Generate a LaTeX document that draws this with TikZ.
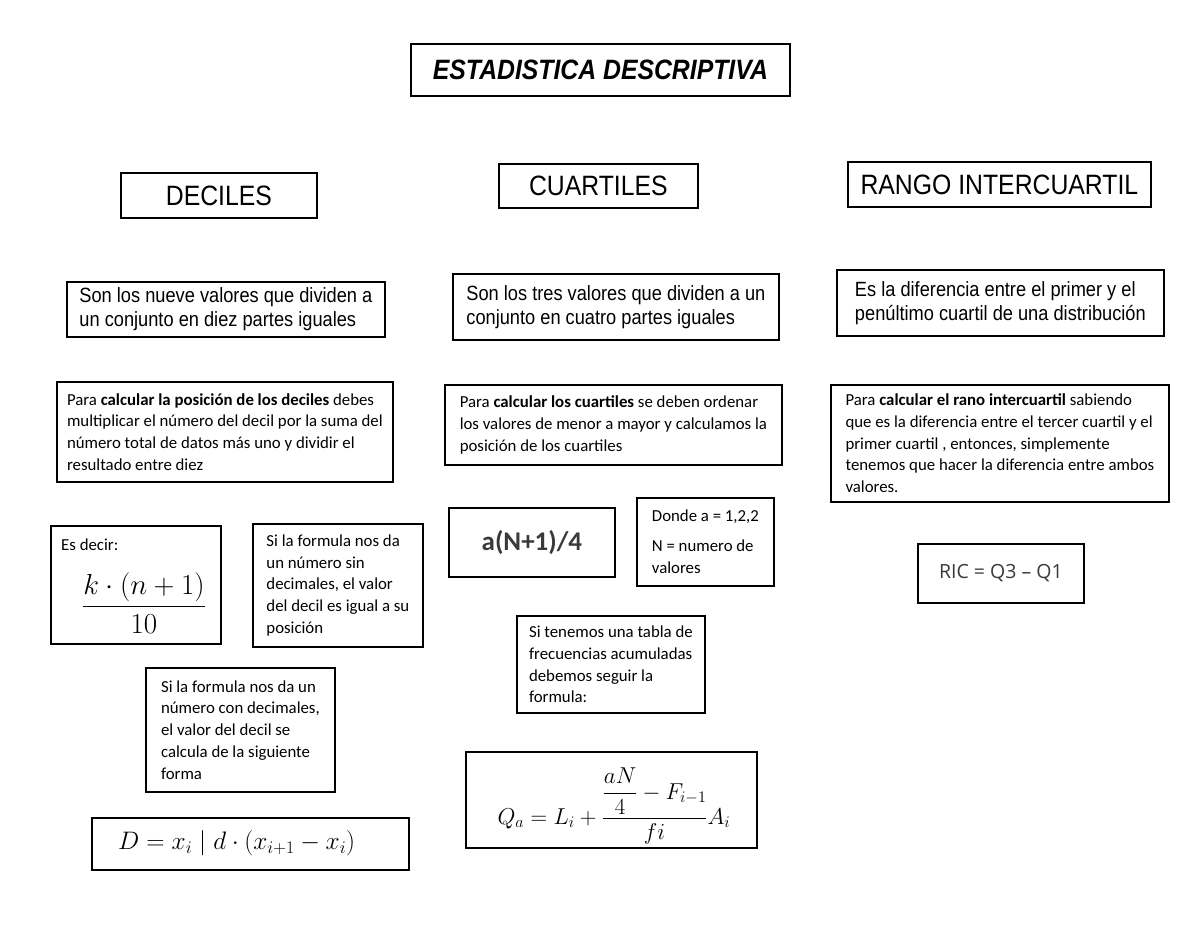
\RequirePackage{fix-cm}
\documentclass[tikz,border=0pt]{standalone}
\usepackage{amsmath}
\usepackage{fontspec}
\setmainfont{Liberation Sans}[FakeStretch=0.885]
\newfontfamily\calfont{Carlito}
\newfontfamily\osfont{Open Sans}
\definecolor{formgray}{HTML}{3A3A3A}
\begin{document}
\begin{tikzpicture}[x=1pt,y=-1pt,
  frame/.style={draw, line width=1.8pt, anchor=north west, inner sep=0pt},
  hdr/.style={frame, font=\fontsize{28}{32}\selectfont, align=center},
  ar/.style={frame, font=\fontsize{20.6}{24}\selectfont, align=left},
  cb/.style={frame, font=\calfont\fontsize{16.8}{21.7}\selectfont, align=left},
  cbtext/.style={inner sep=0pt, font=\calfont\fontsize{16.8}{21.7}\selectfont},
  mth/.style={inner sep=0pt}
]
\useasboundingbox[fill=white] (0,0) rectangle (1200,927);

% title and headers
\node[hdr, minimum width=379pt, minimum height=52pt,
      font=\fontsize{28}{32}\selectfont\bfseries\itshape] (title) at (410,43) {ESTADISTICA DESCRIPTIVA};
\node[hdr, minimum width=196pt, minimum height=45pt] (deciles) at (120,172) {DECILES};
\node[hdr, minimum width=199pt, minimum height=44pt] (cuartiles) at (498,163) {CUARTILES};
\node[hdr, minimum width=303pt, minimum height=45pt] (rango) at (847,161) {RANGO INTERCUARTIL};

% definitions
\node[ar, minimum width=318pt, minimum height=55pt] (defdec) at (66,281)
  {Son los nueve valores que dividen a\\un conjunto en diez partes iguales};
\node[ar, minimum width=326pt, minimum height=66pt] (defcuar) at (452,273)
  {Son los tres valores que dividen a un\\conjunto en cuatro partes iguales};
\node[ar, minimum width=327pt, minimum height=66pt] (defrango) at (836,269)
  {Es la diferencia entre el primer y el\\penúltimo cuartil de una distribución};

% calculation texts
\node[cb, minimum width=336pt, minimum height=100pt] (caldec) at (56,381)
  {Para \textbf{calcular la posición de los deciles} debes\\multiplicar el número del decil por la suma del\\número total de datos más uno y dividir el\\resultado entre diez};
\node[cb, minimum width=337pt, minimum height=80pt] (calcuar) at (444,384)
  {Para \textbf{calcular los cuartiles} se deben ordenar\\los valores de menor a mayor y calculamos la\\posición de los cuartiles};
\node[cb, minimum width=338pt, minimum height=117pt] (calrango) at (830,384)
  {Para \textbf{calcular el rano intercuartil} sabiendo\\que es la diferencia entre el tercer cuartil y el\\primer cuartil , entonces, simplemente\\tenemos que hacer la diferencia entre ambos\\valores.};

% deciles column
\node[frame, minimum width=170pt, minimum height=118pt] (decir) at (50,525) {};
\node[cbtext, anchor=west] (decirlbl) at (61,545) {Es decir:};
\node[mth] (decirf) at (144,603) {\fontsize{29}{34}\selectfont$\displaystyle\frac{k\cdot(n+1)}{10}$};

\node[cb, minimum width=170pt, minimum height=123pt] (sindec) at (252,523)
  {Si la formula nos da\\un número sin\\decimales, el valor\\del decil es igual a su\\posición};

\node[cb, minimum width=189pt, minimum height=124pt] (condec) at (145,667)
  {Si la formula nos da un\\número con decimales,\\el valor del decil se\\calcula de la siguiente\\forma};

\node[frame, minimum width=317pt, minimum height=52pt] (dbox) at (91,817) {};
\node[mth, anchor=west] (df) at (118,843) {\fontsize{25.3}{30}\selectfont$D=x_i\mid d\cdot(x_{i+1}-x_i)$};

% cuartiles column
\node[frame, minimum width=166pt, minimum height=69pt,
      font=\calfont\bfseries\fontsize{27}{30}\selectfont, text=formgray] (pos) at (448,507) {a(N+1)/4};
\node[cb, minimum width=137pt, minimum height=88pt] (donde) at (636,497)
  {Donde a = 1,2,2\\[8pt]N = numero de\\valores};
\node[cb, minimum width=188pt, minimum height=97pt] (tabla) at (516,615)
  {Si tenemos una tabla de\\frecuencias acumuladas\\debemos seguir la\\formula:};
\node[frame, minimum width=291pt, minimum height=96pt] (qbox) at (465,751) {};
\node[mth] (qf) at (614,806) {\fontsize{23}{28}\selectfont$\displaystyle Q_a=L_i+\frac{\dfrac{aN}{4}-F_{i-1}}{fi}A_i$};

% rango column
\node[frame, minimum width=166pt, minimum height=59pt,
      font=\osfont\fontsize{19.5}{23}\selectfont, text=formgray] (ric) at (917,543) {RIC = Q3 – Q1};
\end{tikzpicture}
\end{document}
